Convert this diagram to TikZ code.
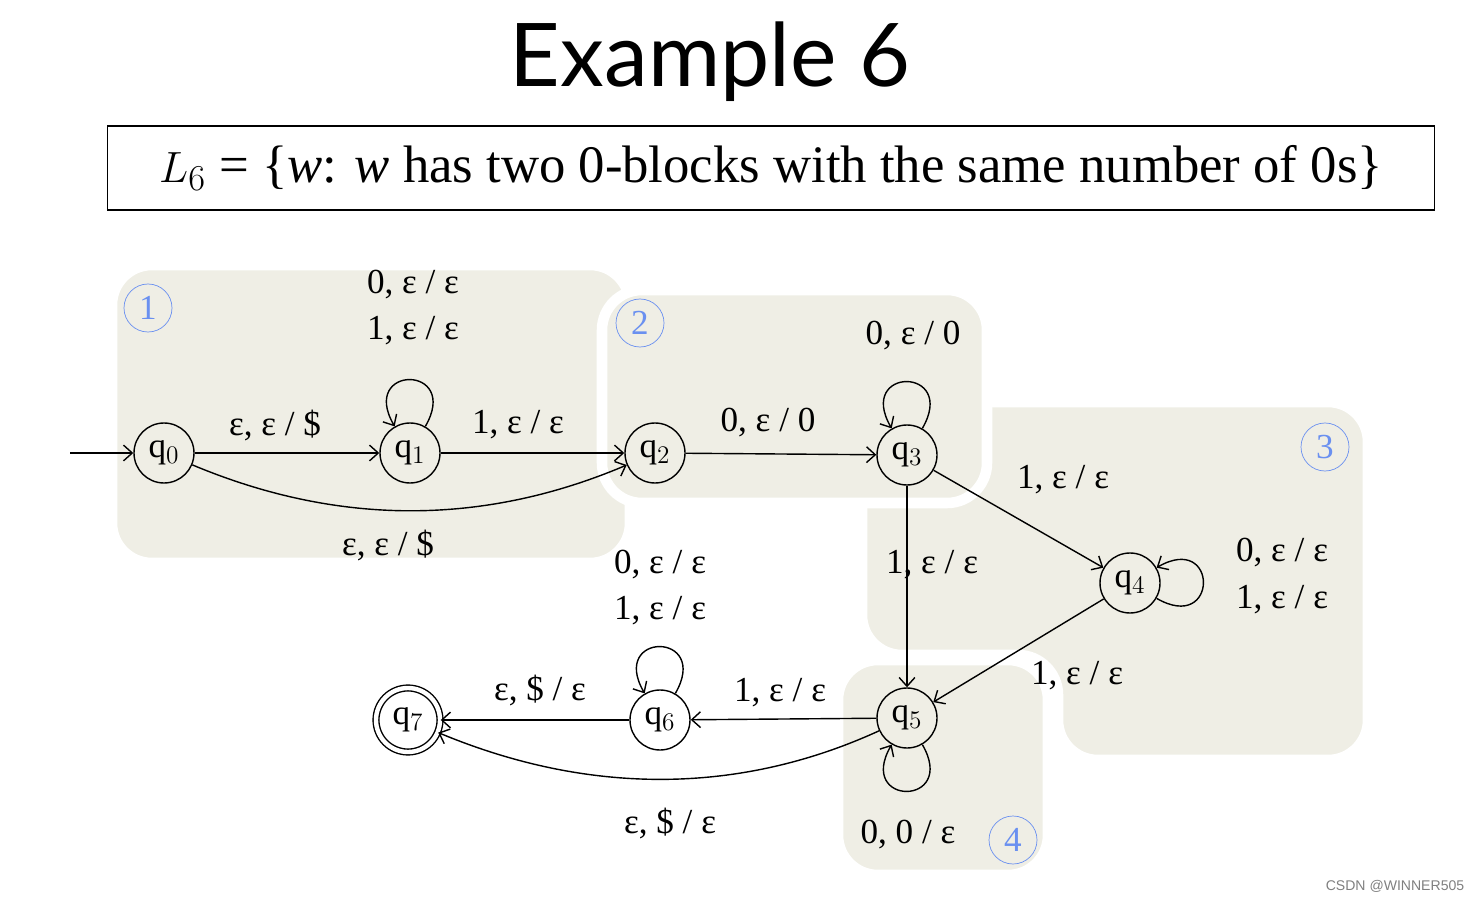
\documentclass[tikz,border=0pt]{standalone}
\usepackage{fontspec}
\setmainfont{Liberation Serif}
\newfontfamily\titlefont{Lato}
\newfontfamily\wmfont{Liberation Sans}
\usetikzlibrary{arrows.meta}
\definecolor{reg}{HTML}{EFEEE5}
\definecolor{cblue}{HTML}{6A90F0}
\begin{document}
\begin{tikzpicture}[x=0.02cm,y=-0.02cm,
  st/.style={circle,draw,thick,minimum size=60*0.02cm,inner sep=0pt,font=\fontsize{20}{22}\selectfont},
  acc/.style={st,double,double distance=2.5pt,minimum size=64*0.02cm},
  lb/.style={font=\fontsize{20}{22}\selectfont,inner sep=1pt},
  tr/.style={thick,-{Straight Barb[length=5pt,width=9pt]}},
  num/.style={circle,draw=cblue,text=cblue,minimum size=48*0.02cm,inner sep=0pt,font=\fontsize{20}{22}\selectfont},
  region/.style={fill=reg,draw=white,line width=6pt,rounded corners=40*0.02cm}]
\useasboundingbox (0,0) rectangle (1478,902);
\fill[white] (0,0) rectangle (1478,902);
% regions
\path[region] (112,265) rectangle (630,563);
\path[region] (862,402) -- (1368,402) -- (1368,760) -- (1058,760) -- (1058,655) -- (862,655) -- cycle;
\path[region] (602,290) rectangle (987,503);
\path[region] (838,660) rectangle (1048,875);
% title
\node[font=\titlefont\fontsize{50}{56}\selectfont] (title) at (710,62) {Example 6};
\node[draw,thick,minimum width=1327*0.02cm,minimum height=84*0.02cm,inner sep=0pt,font=\fontsize{30}{34}\selectfont] (lang) at (771,168)
 {$L_6$ = \{\textit{w}: \textit{w} has two 0-blocks with the same number of 0s\}};
% numbers
\node[num] (n1) at (148,308) {1};
\node[num] (n2) at (640,323) {2};
\node[num] (n3) at (1325,447) {3};
\node[num] (n4) at (1013,840) {4};
% states
\node[st] (q0) at (164,453) {q$_0$};
\node[st] (q1) at (410,453) {q$_1$};
\node[st] (q2) at (655,453) {q$_2$};
\node[st] (q3) at (907,455) {q$_3$};
\node[st] (q4) at (1130,583) {q$_4$};
\node[st] (q5) at (907,718) {q$_5$};
\node[st] (q6) at (660,720) {q$_6$};
\node[acc] (q7) at (408,720) {q$_7$};
\coordinate (start) at (70,453);
% edges
\draw[tr] (start) -- (q0);
\draw[tr] (q0) -- (q1);
\draw[tr] (q1) -- (q2);
\draw[tr] (q0) .. controls (300,510) and (450,540) .. (q2);
\draw[tr] (q1) to[out=60,in=120,looseness=6] (q1);
\draw[tr] (q2) -- (q3);
\draw[tr] (q3) to[out=60,in=120,looseness=6] (q3);
\draw[tr] (q3) -- (q4);
\draw[tr] (q3) -- (q5);
\draw[tr] (q4) to[out=-30,in=30,looseness=6] (q4);
\draw[tr] (q4) -- (q5);
\draw[tr] (q5) -- (q6);
\draw[tr] (q6) to[out=60,in=120,looseness=6] (q6);
\draw[tr] (q6) -- (q7);
\draw[tr] (q5) .. controls (750,790) and (600,800) .. (q7);
\draw[tr] (q5) to[out=-60,in=-120,looseness=6] (q5);
% labels
\node[lb] (l01) at (275,425) {ε, ε / \$};
\node[lb] (l12) at (518,425) {1, ε / ε};
\node[lb] (l02) at (388,545) {ε, ε / \$};
\node[lb] (l11a) at (413,285) {0, ε / ε};
\node[lb] (l11b) at (413,331) {1, ε / ε};
\node[lb] (l23) at (768,423) {0, ε / 0};
\node[lb] (l33) at (913,336) {0, ε / 0};
\node[lb] (l34) at (1063,480) {1, ε / ε};
\node[lb] (l35) at (932,565) {1, ε / ε};
\node[lb] (l44a) at (1282,553) {0, ε / ε};
\node[lb] (l44b) at (1282,600) {1, ε / ε};
\node[lb] (l45) at (1077,676) {1, ε / ε};
\node[lb] (l56) at (780,693) {1, ε / ε};
\node[lb] (l66a) at (660,565) {0, ε / ε};
\node[lb] (l66b) at (660,611) {1, ε / ε};
\node[lb] (l67) at (540,690) {ε, \$ / ε};
\node[lb] (l57) at (670,823) {ε, \$ / ε};
\node[lb] (l55) at (908,835) {0, 0 / ε};
\node[font=\wmfont\fontsize{8}{9}\selectfont,text=gray] (wm) at (1395,886) {CSDN @WINNER505};
\end{tikzpicture}
\end{document}
